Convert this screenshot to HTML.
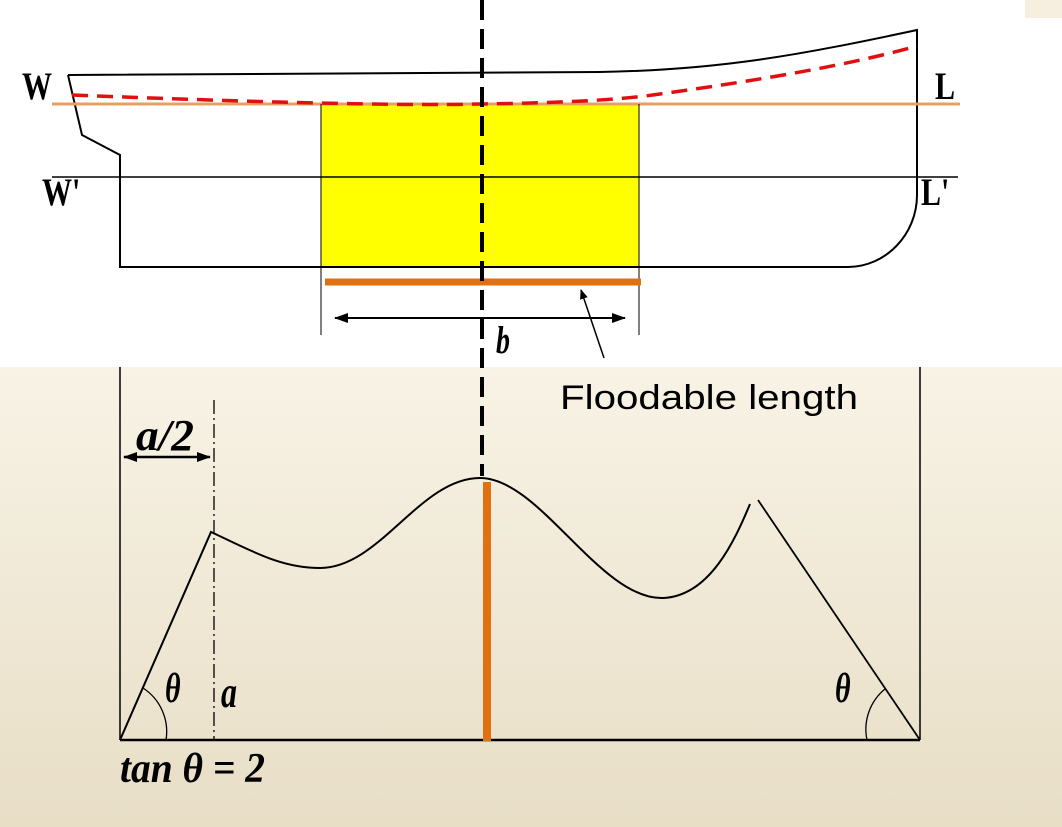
<!DOCTYPE html>
<html><head><style>
body{margin:0;width:1062px;height:827px;overflow:hidden}
svg{display:block}
</style></head><body>
<svg width="1062" height="827" viewBox="0 0 1062 827" xmlns="http://www.w3.org/2000/svg">
<defs>
<linearGradient id="bg" x1="0" y1="0" x2="0" y2="1">
<stop offset="0" stop-color="#f8f3e6"/><stop offset="1" stop-color="#e8dec6"/>
</linearGradient>
<marker id="ah" markerWidth="10" markerHeight="8" refX="9" refY="4" orient="auto" markerUnits="userSpaceOnUse">
<path d="M0,0 L10,4 L0,8 z" fill="#000"/></marker>
<marker id="ah2" markerWidth="14" markerHeight="10" refX="13" refY="5" orient="auto-start-reverse" markerUnits="userSpaceOnUse">
<path d="M0,0 L14,5 L0,10 z" fill="#000"/></marker>
</defs>
<rect width="1062" height="827" fill="#fff"/>
<rect y="367" width="1062" height="460" fill="url(#bg)"/>
<rect x="1025" y="0" width="37" height="18" fill="#f6efe0"/>
<rect x="321" y="104" width="318" height="163" fill="#ffff00"/>
<path d="M68,75 L600,72 C720,70 800,55 917,30 L917,195 C917,235 885,267 848,267 L120,267 L120,155 L82,135 L68,75" fill="none" stroke="#000" stroke-width="2"/>
<line x1="52" y1="104" x2="960" y2="104" stroke="#e8a060" stroke-width="3"/>
<line x1="52" y1="177" x2="958" y2="177" stroke="#000" stroke-width="1.5"/>
<path d="M72,95 C250,102 400,106 480,104 C560,103 620,100 660,94 C760,80 850,65 917,46" fill="none" stroke="#e01010" stroke-width="3.5" stroke-dasharray="16,9"/>
<line x1="321" y1="104" x2="321" y2="335" stroke="#000" stroke-width="1"/>
<line x1="639" y1="104" x2="639" y2="335" stroke="#000" stroke-width="1"/>
<line x1="325" y1="282" x2="641" y2="282" stroke="#e07010" stroke-width="7"/>
<line x1="335" y1="318" x2="625" y2="318" stroke="#000" stroke-width="2" marker-start="url(#ah2)" marker-end="url(#ah2)"/>
<line x1="604" y1="358" x2="581" y2="290" stroke="#000" stroke-width="1.5" marker-end="url(#ah)"/>
<g font-family="Liberation Serif,serif" font-weight="bold">
<text transform="translate(496,353) scale(1,1.4)" font-style="italic" font-size="28">b</text>
<text transform="translate(22,99) scale(1,1.3)" font-size="30">W</text>
<text transform="translate(935,99) scale(1,1.3)" font-size="30">L</text>
<text transform="translate(42,205) scale(1,1.3)" font-size="30">W'</text>
<text transform="translate(921,205) scale(1,1.3)" font-size="30">L'</text>
<text transform="translate(136,450) scale(1,1.4)" font-style="italic" font-size="32" textLength="58" lengthAdjust="spacingAndGlyphs">a/2</text>
<text transform="translate(165,702) scale(1,1.4)" font-style="italic" font-size="30">θ</text>
<text transform="translate(835,702) scale(1,1.4)" font-style="italic" font-size="30">θ</text>
<text transform="translate(221,707) scale(1,1.4)" font-style="italic" font-size="32">a</text>
<text transform="translate(120,782) scale(1,1.4)" font-style="italic" font-size="30" textLength="145" lengthAdjust="spacingAndGlyphs">tan θ = 2</text>
</g>
<line x1="120" y1="367" x2="120" y2="740" stroke="#000" stroke-width="1.5"/>
<line x1="920" y1="367" x2="920" y2="740" stroke="#000" stroke-width="1.5"/>
<line x1="120" y1="740" x2="920" y2="740" stroke="#000" stroke-width="2.5"/>
<line x1="214" y1="400" x2="214" y2="740" stroke="#000" stroke-width="1.3" stroke-dasharray="14,4,2,4"/>
<line x1="124" y1="457" x2="210" y2="457" stroke="#000" stroke-width="2.5" marker-start="url(#ah2)" marker-end="url(#ah2)"/>
<path d="M120,740 L211,532 C250,550 280,568 320,568 C380,568 420,478 480,478 C540,478 600,600 663,598 C710,596 735,540 750,504" fill="none" stroke="#000" stroke-width="2"/>
<line x1="758" y1="500" x2="920" y2="740" stroke="#000" stroke-width="1.8"/>
<line x1="487" y1="482" x2="487" y2="741" stroke="#e07010" stroke-width="8"/>
<line x1="482" y1="0" x2="482" y2="476" stroke="#000" stroke-width="4" stroke-dasharray="20,9"/>
<path d="M143,688 A52,52 0 0 1 166,740" fill="none" stroke="#000" stroke-width="1.3"/>
<path d="M885,689 A52,52 0 0 0 867,740" fill="none" stroke="#000" stroke-width="1.3"/>
<text x="560" y="409" font-family="Liberation Sans,sans-serif" font-size="34" textLength="298" lengthAdjust="spacingAndGlyphs">Floodable length</text>
</svg>
</body></html>
